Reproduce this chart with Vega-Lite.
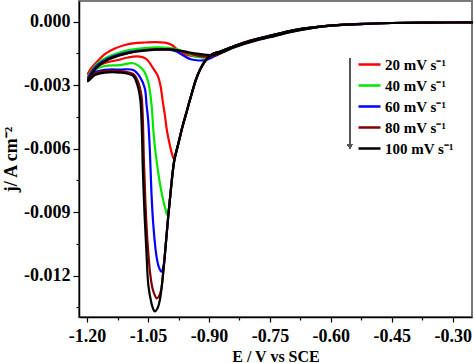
{
"$schema": "https://vega.github.io/schema/vega-lite/v6.json",
"width": 393, "height": 316,
"autosize": {"type": "none"},
"padding": {"left": 79, "top": 1, "right": 2, "bottom": 46},
"config": {"font": "Liberation Serif", "view": {"stroke": "#7a7a7a", "strokeWidth": 2},
 "axis": {"grid": false, "labelFont": "Liberation Serif", "labelFontWeight": "bold", "labelFontSize": 18, "labelColor": "#000", "titleFont": "Liberation Serif", "titleFontWeight": "bold", "titleFontSize": 18, "titleColor": "#000", "domainColor": "#000", "domainWidth": 1.5, "tickColor": "#000", "tickWidth": 1.2}},
"data": {"values": [
{"v":20,"E":-0.25,"j":-0.00004},{"v":20,"E":-0.35,"j":-0.00005},{"v":20,"E":-0.45,"j":-0.00007},{"v":20,"E":-0.53,"j":-0.00012},{"v":20,"E":-0.61,"j":-0.0002},{"v":20,"E":-0.69,"j":-0.0004},{"v":20,"E":-0.75,"j":-0.00068},{"v":20,"E":-0.8,"j":-0.00092},{"v":20,"E":-0.84,"j":-0.00118},{"v":20,"E":-0.87,"j":-0.0014},{"v":20,"E":-0.893,"j":-0.00155},{"v":20,"E":-0.9077,"j":-0.00182},{"v":20,"E":-0.9224,"j":-0.00229},{"v":20,"E":-0.9323,"j":-0.00276},{"v":20,"E":-0.947,"j":-0.00371},{"v":20,"E":-0.957,"j":-0.0044},{"v":20,"E":-0.9655,"j":-0.00498},
{"v":20,"E":-0.9746,"j":-0.0057},{"v":20,"E":-0.981,"j":-0.0062},{"v":20,"E":-0.987,"j":-0.00647},{"v":20,"E":-0.991,"j":-0.00625},{"v":20,"E":-0.9963,"j":-0.00584},{"v":20,"E":-1.0037,"j":-0.00513},{"v":20,"E":-1.0086,"j":-0.00442},{"v":20,"E":-1.0136,"j":-0.0038},{"v":20,"E":-1.0197,"j":-0.003},{"v":20,"E":-1.0259,"j":-0.00257},{"v":20,"E":-1.0374,"j":-0.00221},{"v":20,"E":-1.0555,"j":-0.00175},{"v":20,"E":-1.0751,"j":-0.00165},{"v":20,"E":-1.0998,"j":-0.0017},{"v":20,"E":-1.1244,"j":-0.00182},{"v":20,"E":-1.1564,"j":-0.00196},{"v":20,"E":-1.181,"j":-0.00217},{"v":20,"E":-1.198,"j":-0.00248},
{"v":20,"E":-1.19,"j":-0.0022},{"v":20,"E":-1.181,"j":-0.00201},{"v":20,"E":-1.1564,"j":-0.00154},{"v":20,"E":-1.1318,"j":-0.00128},{"v":20,"E":-1.1071,"j":-0.00111},{"v":20,"E":-1.0825,"j":-0.00102},{"v":20,"E":-1.0579,"j":-0.00099},{"v":20,"E":-1.0333,"j":-0.00097},{"v":20,"E":-1.0086,"j":-0.001},{"v":20,"E":-0.9914,"j":-0.00111},{"v":20,"E":-0.9766,"j":-0.00135},{"v":20,"E":-0.9594,"j":-0.00154},{"v":20,"E":-0.9347,"j":-0.00165},{"v":20,"E":-0.91,"j":-0.00168},{"v":20,"E":-0.8929,"j":-0.00163},{"v":20,"E":-0.875,"j":-0.0015},{"v":20,"E":-0.855,"j":-0.00132},{"v":20,"E":-0.83,"j":-0.0011},{"v":20,"E":-0.8,"j":-0.0009},{"v":20,"E":-0.77,"j":-0.00076},{"v":20,"E":-0.74,"j":-0.00064},{"v":20,"E":-0.7,"j":-0.00046},{"v":20,"E":-0.65,"j":-0.0003},{"v":20,"E":-0.6,"j":-0.00019},{"v":20,"E":-0.53,"j":-0.00011},{"v":20,"E":-0.45,"j":-0.00007},{"v":20,"E":-0.35,"j":-0.00005},{"v":20,"E":-0.25,"j":-0.00004},

{"v":40,"E":-0.25,"j":-0.00004},{"v":40,"E":-0.35,"j":-0.00005},{"v":40,"E":-0.45,"j":-0.00007},{"v":40,"E":-0.53,"j":-0.00012},{"v":40,"E":-0.61,"j":-0.0002},{"v":40,"E":-0.69,"j":-0.0004},{"v":40,"E":-0.75,"j":-0.00068},{"v":40,"E":-0.8,"j":-0.00092},{"v":40,"E":-0.84,"j":-0.00118},{"v":40,"E":-0.87,"j":-0.0014},{"v":40,"E":-0.893,"j":-0.00155},{"v":40,"E":-0.9077,"j":-0.00182},{"v":40,"E":-0.9224,"j":-0.00229},{"v":40,"E":-0.9323,"j":-0.00276},{"v":40,"E":-0.947,"j":-0.00371},{"v":40,"E":-0.957,"j":-0.0044},{"v":40,"E":-0.9655,"j":-0.00498},{"v":40,"E":-0.9746,"j":-0.0057},{"v":40,"E":-0.9852,"j":-0.00654},{"v":40,"E":-0.9915,"j":-0.0075},{"v":40,"E":-0.9963,"j":-0.00843},
{"v":40,"E":-0.9995,"j":-0.0089},{"v":40,"E":-1.003,"j":-0.00912},{"v":40,"E":-1.0074,"j":-0.00885},{"v":40,"E":-1.0128,"j":-0.00843},{"v":40,"E":-1.021,"j":-0.00763},{"v":40,"E":-1.0308,"j":-0.00631},{"v":40,"E":-1.037,"j":-0.00513},{"v":40,"E":-1.0414,"j":-0.00394},{"v":40,"E":-1.0498,"j":-0.00284},{"v":40,"E":-1.0621,"j":-0.00229},{"v":40,"E":-1.0867,"j":-0.00197},{"v":40,"E":-1.1195,"j":-0.00206},{"v":40,"E":-1.1564,"j":-0.0021},{"v":40,"E":-1.181,"j":-0.00229},{"v":40,"E":-1.198,"j":-0.00262},
{"v":40,"E":-1.188,"j":-0.00228},{"v":40,"E":-1.174,"j":-0.00198},{"v":40,"E":-1.15,"j":-0.00168},{"v":40,"E":-1.12,"j":-0.00146},{"v":40,"E":-1.09,"j":-0.00133},{"v":40,"E":-1.06,"j":-0.00126},{"v":40,"E":-1.03,"j":-0.00122},{"v":40,"E":-1.0,"j":-0.00124},{"v":40,"E":-0.975,"j":-0.00134},{"v":40,"E":-0.955,"j":-0.0015},{"v":40,"E":-0.935,"j":-0.00164},{"v":40,"E":-0.915,"j":-0.0017},{"v":40,"E":-0.9,"j":-0.00168},{"v":40,"E":-0.885,"j":-0.00158},{"v":40,"E":-0.87,"j":-0.00146},{"v":40,"E":-0.85,"j":-0.00128},{"v":40,"E":-0.82,"j":-0.00106},{"v":40,"E":-0.785,"j":-0.00086},{"v":40,"E":-0.75,"j":-0.0007},{"v":40,"E":-0.7,"j":-0.00048},{"v":40,"E":-0.65,"j":-0.00031},{"v":40,"E":-0.6,"j":-0.0002},{"v":40,"E":-0.53,"j":-0.00012},{"v":40,"E":-0.45,"j":-0.00007},{"v":40,"E":-0.35,"j":-0.00005},{"v":40,"E":-0.25,"j":-0.00004},

{"v":60,"E":-0.25,"j":-0.00004},{"v":60,"E":-0.35,"j":-0.00005},{"v":60,"E":-0.45,"j":-0.00007},{"v":60,"E":-0.53,"j":-0.00012},{"v":60,"E":-0.61,"j":-0.0002},{"v":60,"E":-0.69,"j":-0.0004},{"v":60,"E":-0.75,"j":-0.00068},{"v":60,"E":-0.8,"j":-0.00092},{"v":60,"E":-0.84,"j":-0.00118},{"v":60,"E":-0.87,"j":-0.0014},{"v":60,"E":-0.893,"j":-0.00155},{"v":60,"E":-0.9077,"j":-0.00182},{"v":60,"E":-0.9224,"j":-0.00229},{"v":60,"E":-0.9323,"j":-0.00276},{"v":60,"E":-0.947,"j":-0.00371},{"v":60,"E":-0.957,"j":-0.0044},{"v":60,"E":-0.9655,"j":-0.00498},{"v":60,"E":-0.9746,"j":-0.0057},{"v":60,"E":-0.9852,"j":-0.00654},{"v":60,"E":-0.9915,"j":-0.0075},{"v":60,"E":-0.9963,"j":-0.00843},{"v":60,"E":-1.0005,"j":-0.00924},{"v":60,"E":-1.0067,"j":-0.0106},
{"v":60,"E":-1.0115,"j":-0.0115},{"v":60,"E":-1.0167,"j":-0.01182},{"v":60,"E":-1.0234,"j":-0.0116},{"v":60,"E":-1.0291,"j":-0.01111},{"v":60,"E":-1.0374,"j":-0.00952},{"v":60,"E":-1.0419,"j":-0.00796},{"v":60,"E":-1.0456,"j":-0.00607},{"v":60,"E":-1.0498,"j":-0.00465},{"v":60,"E":-1.0537,"j":-0.00394},{"v":60,"E":-1.0579,"j":-0.00316},{"v":60,"E":-1.0702,"j":-0.00261},{"v":60,"E":-1.0867,"j":-0.00229},{"v":60,"E":-1.1195,"j":-0.00227},{"v":60,"E":-1.1564,"j":-0.00228},{"v":60,"E":-1.181,"j":-0.0024},{"v":60,"E":-1.198,"j":-0.00268},
{"v":60,"E":-1.188,"j":-0.00234},{"v":60,"E":-1.174,"j":-0.00205},{"v":60,"E":-1.15,"j":-0.00176},{"v":60,"E":-1.12,"j":-0.00155},{"v":60,"E":-1.09,"j":-0.00142},{"v":60,"E":-1.06,"j":-0.00135},{"v":60,"E":-1.03,"j":-0.00131},{"v":60,"E":-1.0,"j":-0.00133},{"v":60,"E":-0.98,"j":-0.00142},{"v":60,"E":-0.962,"j":-0.00162},{"v":60,"E":-0.945,"j":-0.00178},{"v":60,"E":-0.925,"j":-0.00184},{"v":60,"E":-0.908,"j":-0.00182},{"v":60,"E":-0.895,"j":-0.00172},{"v":60,"E":-0.88,"j":-0.00158},{"v":60,"E":-0.86,"j":-0.00138},{"v":60,"E":-0.83,"j":-0.00112},{"v":60,"E":-0.8,"j":-0.00092},{"v":60,"E":-0.77,"j":-0.00076},{"v":60,"E":-0.75,"j":-0.00066},{"v":60,"E":-0.7,"j":-0.00046},{"v":60,"E":-0.65,"j":-0.0003},{"v":60,"E":-0.6,"j":-0.00019},{"v":60,"E":-0.53,"j":-0.00011},{"v":60,"E":-0.45,"j":-0.00007},{"v":60,"E":-0.35,"j":-0.00005},{"v":60,"E":-0.25,"j":-0.00004},

{"v":80,"E":-0.25,"j":-0.00004},{"v":80,"E":-0.35,"j":-0.00005},{"v":80,"E":-0.45,"j":-0.00007},{"v":80,"E":-0.53,"j":-0.00012},{"v":80,"E":-0.61,"j":-0.0002},{"v":80,"E":-0.69,"j":-0.0004},{"v":80,"E":-0.75,"j":-0.00068},{"v":80,"E":-0.8,"j":-0.00092},{"v":80,"E":-0.84,"j":-0.00118},{"v":80,"E":-0.87,"j":-0.0014},{"v":80,"E":-0.893,"j":-0.00155},{"v":80,"E":-0.9077,"j":-0.00182},{"v":80,"E":-0.9224,"j":-0.00229},{"v":80,"E":-0.9323,"j":-0.00276},{"v":80,"E":-0.947,"j":-0.00371},{"v":80,"E":-0.957,"j":-0.0044},{"v":80,"E":-0.9655,"j":-0.00498},{"v":80,"E":-0.9746,"j":-0.0057},{"v":80,"E":-0.9852,"j":-0.00654},{"v":80,"E":-0.9915,"j":-0.0075},{"v":80,"E":-0.9963,"j":-0.00843},{"v":80,"E":-1.0005,"j":-0.00924},{"v":80,"E":-1.0067,"j":-0.0106},{"v":80,"E":-1.0128,"j":-0.01188},
{"v":80,"E":-1.018,"j":-0.0127},{"v":80,"E":-1.0235,"j":-0.013},{"v":80,"E":-1.0291,"j":-0.01308},{"v":80,"E":-1.034,"j":-0.0129},{"v":80,"E":-1.0385,"j":-0.01265},{"v":80,"E":-1.0443,"j":-0.01198},{"v":80,"E":-1.0517,"j":-0.01032},{"v":80,"E":-1.0567,"j":-0.00843},{"v":80,"E":-1.0603,"j":-0.00654},{"v":80,"E":-1.0628,"j":-0.00465},{"v":80,"E":-1.0665,"j":-0.00347},{"v":80,"E":-1.0744,"j":-0.00286},{"v":80,"E":-1.0867,"j":-0.00248},{"v":80,"E":-1.1195,"j":-0.00234},{"v":80,"E":-1.1564,"j":-0.00234},{"v":80,"E":-1.181,"j":-0.00246},{"v":80,"E":-1.198,"j":-0.00276},
{"v":80,"E":-1.188,"j":-0.0024},{"v":80,"E":-1.174,"j":-0.0021},{"v":80,"E":-1.15,"j":-0.0018},{"v":80,"E":-1.12,"j":-0.00158},{"v":80,"E":-1.09,"j":-0.00145},{"v":80,"E":-1.06,"j":-0.00137},{"v":80,"E":-1.03,"j":-0.00132},{"v":80,"E":-1.0,"j":-0.00132},{"v":80,"E":-0.975,"j":-0.00138},{"v":80,"E":-0.95,"j":-0.0015},{"v":80,"E":-0.925,"j":-0.00162},{"v":80,"E":-0.905,"j":-0.00166},{"v":80,"E":-0.89,"j":-0.00162},{"v":80,"E":-0.875,"j":-0.00153},{"v":80,"E":-0.86,"j":-0.0014},{"v":80,"E":-0.84,"j":-0.00122},{"v":80,"E":-0.815,"j":-0.00105},{"v":80,"E":-0.785,"j":-0.00088},{"v":80,"E":-0.75,"j":-0.00072},{"v":80,"E":-0.7,"j":-0.00049},{"v":80,"E":-0.65,"j":-0.00031},{"v":80,"E":-0.6,"j":-0.0002},{"v":80,"E":-0.53,"j":-0.00012},{"v":80,"E":-0.45,"j":-0.00007},{"v":80,"E":-0.35,"j":-0.00005},{"v":80,"E":-0.25,"j":-0.00004},

{"v":100,"E":-0.25,"j":-0.00004},{"v":100,"E":-0.35,"j":-0.00005},{"v":100,"E":-0.45,"j":-0.00007},{"v":100,"E":-0.53,"j":-0.00012},{"v":100,"E":-0.61,"j":-0.0002},{"v":100,"E":-0.69,"j":-0.0004},{"v":100,"E":-0.75,"j":-0.00068},{"v":100,"E":-0.8,"j":-0.00092},{"v":100,"E":-0.84,"j":-0.00118},{"v":100,"E":-0.87,"j":-0.0014},{"v":100,"E":-0.893,"j":-0.00155},{"v":100,"E":-0.9077,"j":-0.00182},{"v":100,"E":-0.9224,"j":-0.00229},{"v":100,"E":-0.9323,"j":-0.00276},{"v":100,"E":-0.947,"j":-0.00371},{"v":100,"E":-0.957,"j":-0.0044},{"v":100,"E":-0.9655,"j":-0.00498},{"v":100,"E":-0.9746,"j":-0.0057},{"v":100,"E":-0.9852,"j":-0.00654},{"v":100,"E":-0.9915,"j":-0.0075},{"v":100,"E":-0.9963,"j":-0.00843},{"v":100,"E":-1.0005,"j":-0.00924},{"v":100,"E":-1.0067,"j":-0.0106},{"v":100,"E":-1.0128,"j":-0.01188},{"v":100,"E":-1.0209,"j":-0.01316},
{"v":100,"E":-1.027,"j":-0.01356},{"v":100,"E":-1.0333,"j":-0.0137},{"v":100,"E":-1.038,"j":-0.01355},{"v":100,"E":-1.0419,"j":-0.01329},{"v":100,"E":-1.0493,"j":-0.01245},{"v":100,"E":-1.0542,"j":-0.01079},{"v":100,"E":-1.0591,"j":-0.0089},{"v":100,"E":-1.0628,"j":-0.00702},{"v":100,"E":-1.0653,"j":-0.00513},{"v":100,"E":-1.069,"j":-0.00371},{"v":100,"E":-1.0764,"j":-0.003},{"v":100,"E":-1.0867,"j":-0.00257},{"v":100,"E":-1.1195,"j":-0.00241},{"v":100,"E":-1.1564,"j":-0.00241},{"v":100,"E":-1.181,"j":-0.00253},{"v":100,"E":-1.198,"j":-0.00283},
{"v":100,"E":-1.188,"j":-0.00245},{"v":100,"E":-1.174,"j":-0.00213},{"v":100,"E":-1.15,"j":-0.00182},{"v":100,"E":-1.12,"j":-0.0016},{"v":100,"E":-1.09,"j":-0.00146},{"v":100,"E":-1.06,"j":-0.00138},{"v":100,"E":-1.03,"j":-0.00133},{"v":100,"E":-1.0,"j":-0.00132},{"v":100,"E":-0.975,"j":-0.00136},{"v":100,"E":-0.95,"j":-0.00145},{"v":100,"E":-0.925,"j":-0.00153},{"v":100,"E":-0.905,"j":-0.00158},{"v":100,"E":-0.89,"j":-0.00158},{"v":100,"E":-0.875,"j":-0.00151},{"v":100,"E":-0.86,"j":-0.0014},{"v":100,"E":-0.84,"j":-0.00124},{"v":100,"E":-0.815,"j":-0.00107},{"v":100,"E":-0.785,"j":-0.0009},{"v":100,"E":-0.75,"j":-0.00074},{"v":100,"E":-0.7,"j":-0.0005},{"v":100,"E":-0.65,"j":-0.00032},{"v":100,"E":-0.6,"j":-0.0002},{"v":100,"E":-0.53,"j":-0.00012},{"v":100,"E":-0.45,"j":-0.00007},{"v":100,"E":-0.35,"j":-0.00005},{"v":100,"E":-0.25,"j":-0.00004}
]},
"resolve": {"axis": {"x": "independent", "y": "independent"}},
"layer": [
 {"mark": {"type": "line", "strokeWidth": 2.2, "interpolate": "catmull-rom"},
  "encoding": {
   "x": {"field": "E", "type": "quantitative", "scale": {"domain": [-1.22, -0.2525], "nice": false, "zero": false},
     "axis": {"values": [-1.2, -1.05, -0.9, -0.75, -0.6, -0.45, -0.3], "labelExpr": "replace(format(datum.value, '.2f'), '−', '-')", "tickSize": 5, "labelPadding": 5, "title": "E / V vs SCE", "titlePadding": 3, "titleFontSize": 16}},
   "y": {"field": "j", "type": "quantitative", "scale": {"domain": [-0.01396, 0.00097], "nice": false, "zero": false},
     "axis": {"values": [-0.012, -0.009, -0.006, -0.003, 0], "labelExpr": "replace(format(datum.value, '.3f'), '−', '-')", "tickSize": 6, "labelPadding": 3, "title": "j/ A cm⁻²", "titlePadding": 3}},
   "color": {"field": "v", "type": "nominal", "scale": {"domain": [20, 40, 60, 80, 100], "range": ["#ff0000", "#00e600", "#0000ff", "#800000", "#000000"]},
     "legend": {"title": null, "orient": "none", "legendX": 278, "legendY": 51, "padding": 0, "symbolType": "stroke", "symbolSize": 484, "symbolStrokeWidth": 2.5, "labelFont": "Liberation Serif", "labelFontWeight": "bold", "labelFontSize": 15, "labelColor": "#000", "labelOffset": 3, "rowPadding": -1, "labelExpr": "datum.label + ' mV s⁻¹'"}},
   "order": {"value": null}
  }},
 {"mark": {"type": "rule", "color": "#555555", "strokeWidth": 1.5},
  "encoding": {
   "x": {"datum": -0.553, "type": "quantitative", "scale": {"domain": [-1.22, -0.2525], "nice": false, "zero": false},
     "axis": {"orient": "bottom", "values": [-1.125, -0.975, -0.825, -0.675, -0.525, -0.375], "labels": false, "tickSize": 3, "domain": false, "title": null}},
   "y": {"datum": -0.00172, "type": "quantitative", "scale": {"domain": [-0.01396, 0.00097], "nice": false, "zero": false},
     "axis": {"orient": "left", "values": [-0.0135, -0.0105, -0.0075, -0.0045, -0.0015], "labels": false, "tickSize": 3, "domain": false, "title": null}},
   "y2": {"datum": -0.0058}
  }},
 {"mark": {"type": "point", "shape": "triangle-down", "filled": true, "color": "#555555", "size": 30, "opacity": 1},
  "encoding": {
   "x": {"datum": -0.553, "type": "quantitative", "axis": null},
   "y": {"datum": -0.0059, "type": "quantitative", "axis": null}
  }}
]
}
